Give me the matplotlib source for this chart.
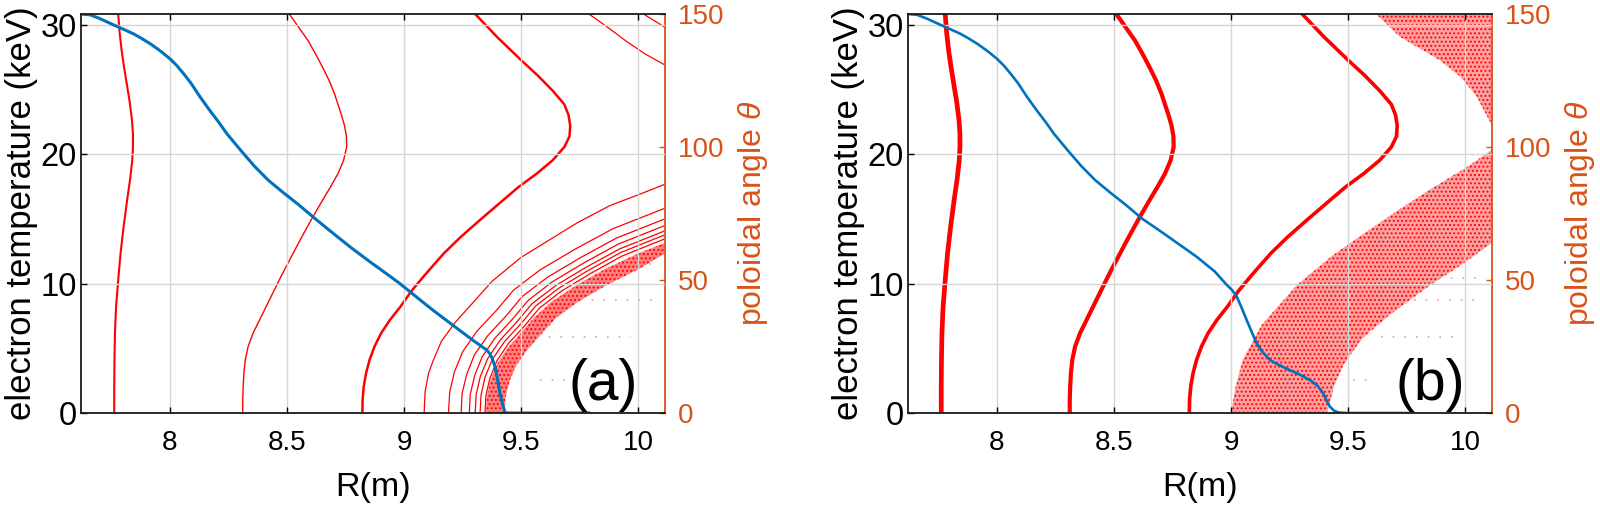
import matplotlib.pyplot as plt
import numpy as np
from matplotlib.ticker import FuncFormatter

plt.rcParams["font.family"] = ["Liberation Sans", "DejaVu Sans"]
plt.rcParams["mathtext.fontset"] = "custom"
plt.rcParams["mathtext.it"] = "Liberation Sans:italic"
plt.rcParams["hatch.linewidth"] = 0.9

BLUE = "#0072BD"
ORANGE = "#D95319"
RED = "#FF0000"

# electron temperature profiles (R in m, Te in keV)
te_r_a = [7.62, 7.66, 7.70, 7.76, 7.80, 7.844, 7.88, 7.92, 7.96, 8.0, 8.03, 8.06, 8.09,
          8.129, 8.17, 8.21, 8.243, 8.30, 8.36, 8.42, 8.48, 8.55, 8.62, 8.70, 8.77,
          8.85, 8.90, 8.983, 9.026, 9.12, 9.218, 9.30, 9.354, 9.366, 9.376, 9.389,
          9.40, 9.41, 9.421, 9.432, 9.60, 9.79]
te_a = [30.85, 30.78, 30.5, 30.0, 29.68, 29.32, 28.95, 28.5, 27.98, 27.39, 26.85, 26.2,
        25.5, 24.43, 23.4, 22.45, 21.6, 20.36, 19.1, 18.0, 17.1, 16.1, 15.03, 13.85,
        12.84, 11.75, 11.1, 10.0, 9.37, 8.0, 6.66, 5.55, 4.86, 4.6, 4.25, 3.58,
        2.55, 1.52, 0.7, 0.0, 0.0, 0.0]
te_r_b = [7.62, 7.66, 7.70, 7.76, 7.80, 7.844, 7.88, 7.92, 7.96, 8.0, 8.03, 8.06, 8.09,
          8.129, 8.17, 8.21, 8.243, 8.30, 8.36, 8.42, 8.48, 8.55, 8.62, 8.711, 8.854,
          8.93, 8.982, 9.005, 9.025, 9.045, 9.067, 9.09, 9.11, 9.135, 9.167, 9.20,
          9.238, 9.29, 9.337, 9.37, 9.394, 9.41, 9.423, 9.44, 9.46, 9.494, 9.78]
te_b = [30.85, 30.78, 30.5, 30.0, 29.68, 29.32, 28.95, 28.5, 27.98, 27.39, 26.85, 26.2,
        25.5, 24.43, 23.4, 22.45, 21.6, 20.36, 19.1, 18.0, 17.1, 16.1, 15.03, 13.9, 12.07,
        10.95, 9.9, 9.5, 8.98, 8.15, 7.18, 6.2, 5.38, 4.7, 4.09, 3.75,
        3.42, 3.0, 2.55, 2.1, 1.52, 0.9, 0.49, 0.18, 0.04, 0.0, 0.0]

# closed field line traces (poloidal angle in deg, R in m), same in both panels
c1_th = [0, 10, 20, 30, 40, 50, 60, 70, 80, 88, 95, 100, 105, 110, 117, 124, 130, 136,
         143, 150]
c1_r = [7.762, 7.762, 7.763, 7.765, 7.770, 7.779, 7.789, 7.802, 7.817, 7.830, 7.839,
        7.842, 7.842, 7.838, 7.828, 7.815, 7.804, 7.794, 7.785, 7.779]
c2_th = [0, 5, 10, 15, 20, 25, 30, 35, 40, 45, 50, 55, 60, 65, 70, 75, 80, 85, 90, 95,
         100, 104, 108, 112, 116, 120, 125, 130, 135, 140, 145, 150]
c2_r = [8.311, 8.311, 8.313, 8.316, 8.322, 8.334, 8.355, 8.383, 8.411, 8.439, 8.467,
        8.496, 8.526, 8.556, 8.587, 8.619, 8.652, 8.686, 8.718, 8.742, 8.755, 8.754,
        8.746, 8.733, 8.718, 8.703, 8.68, 8.652, 8.622, 8.59, 8.55, 8.51]
c3_th = [0, 5, 10, 15, 20, 25, 30, 35, 40, 46, 52, 60, 66, 72.6, 80, 85, 90, 95, 100,
         104, 108, 112, 116, 121, 127, 133, 141.5, 150]
c3_r = [8.822, 8.823, 8.828, 8.838, 8.853, 8.874, 8.902, 8.940, 8.985, 9.033, 9.09,
        9.170, 9.24, 9.325, 9.423, 9.49, 9.567, 9.635, 9.685, 9.707, 9.71, 9.703,
        9.685, 9.637, 9.57, 9.496, 9.396, 9.304]

# panel (a): nested surfaces near the edge
arc_th = [
    [0, 8, 15, 20, 27, 34, 42, 49.5, 58.5, 65, 71.5, 78, 82, 86],
    [0, 7.7, 15.4, 23.1, 30.8, 38.5, 46.2, 53.9, 61.6, 69.3, 77],
    [0, 7.3, 14.6, 21.9, 29.2, 36.5, 43.8, 51.1, 58.4, 65.7, 73],
    [0, 7.05, 14.1, 21.15, 28.2, 35.25, 42.3, 49.35, 56.4, 63.45, 70.5],
    [0, 6.85, 13.7, 20.55, 27.4, 34.25, 41.1, 47.95, 54.8, 61.65, 68.5],
    [0, 6.7, 13.4, 20.1, 26.8, 33.5, 40.2, 46.9, 53.6, 60.3, 67],
    [0, 6.55, 13.1, 19.65, 26.2, 32.75, 39.3, 45.85, 52.4, 58.95, 65.5],
]
arc_r = [
    [9.086, 9.090, 9.105, 9.126, 9.16, 9.218, 9.30, 9.376, 9.50, 9.62, 9.74, 9.88, 10.0, 10.115],
    [9.19, 9.195, 9.215, 9.251, 9.312, 9.394, 9.468, 9.583, 9.731, 9.893, 10.115],
    [9.244, 9.248, 9.268, 9.301, 9.359, 9.436, 9.505, 9.614, 9.754, 9.906, 10.115],
    [9.279, 9.283, 9.302, 9.334, 9.389, 9.463, 9.530, 9.634, 9.768, 9.914, 10.115],
    [9.304, 9.308, 9.326, 9.358, 9.411, 9.482, 9.547, 9.649, 9.778, 9.920, 10.115],
    [9.325, 9.329, 9.346, 9.377, 9.429, 9.499, 9.562, 9.661, 9.787, 9.925, 10.115],
    [9.346, 9.350, 9.367, 9.397, 9.447, 9.515, 9.577, 9.673, 9.796, 9.930, 10.115],
]
corner_th = [[150, 145, 139.6, 135, 130.8], [150, 145]]
corner_r = [[9.79, 9.87, 9.952, 10.03, 10.115], [10.023, 10.115]]

# panel (a): stochastic layer edges
band_a_th = [0, 6, 12, 18, 24, 30, 36, 42, 48, 54, 60, 64]
band_a_outer = [9.35, 9.354, 9.368, 9.395, 9.439, 9.498, 9.557, 9.633, 9.736, 9.856, 10.0, 10.115]
band_a_inner = [9.43, 9.434, 9.451, 9.48, 9.529, 9.59, 9.653, 9.747, 9.864, 10.001, 10.115, 10.115]

# panel (b): stochastic regions, outline points
sto1_upper_r = [9.0, 9.02, 9.05, 9.13, 9.28, 9.43, 9.56, 9.71, 9.85, 10.0, 10.115]
sto1_upper_th = [0, 10, 20, 33, 48, 59, 67, 76, 84, 92, 99]
sto1_lower_r = [9.41, 9.44, 9.48, 9.56, 9.68, 9.85, 9.99, 10.115]
sto1_lower_th = [0, 10, 18, 28, 37, 48, 56, 64]
sto2_r = [9.62, 9.72, 9.89, 9.98, 10.05, 10.115, 10.115]
sto2_th = [150, 141.5, 132.7, 126.4, 119, 108, 150]

# faint sparse points rows
rows_a_th = [56, 42.5, 28.6, 12.4]
rows_a_r0 = [9.95, 9.75, 9.57, 9.58]
rows_a_r1 = [10.08, 10.08, 9.97, 9.78]
rows_b_th = [50.9, 42.5, 28.6, 12.4]
rows_b_r0 = [9.89, 9.78, 9.64, 9.52]
rows_b_r1 = [10.06, 10.08, 9.98, 9.58]

r_ticks = [8, 8.5, 9, 9.5, 10]
te_ticks = [0, 10, 20, 30]
th_ticks = [0, 50, 100, 150]


def setup_axes(ax, ax2, letter):
    ax.set_xlim(7.62, 10.115)
    ax.set_ylim(0, 30.85)
    ax2.set_ylim(0, 150)
    ax.set_zorder(ax2.get_zorder() + 1)
    ax.patch.set_visible(False)

    ax.set_xticks(r_ticks)
    ax.xaxis.set_major_formatter(FuncFormatter(lambda v, p: f"{v:g}"))
    ax.set_yticks(te_ticks)
    ax2.set_yticks(th_ticks)
    ax.grid(True, color="#d6d6d6", lw=1.0)

    ax.tick_params(axis="x", direction="in", length=4.5, width=1.0, top=True,
                   labelsize=20, pad=12)
    ax.tick_params(axis="y", direction="in", length=4.5, width=1.0, right=False,
                   labelsize=23.5, pad=3)
    ax2.tick_params(axis="y", direction="in", length=4.5, width=1.0, colors=ORANGE,
                    labelsize=20, pad=9)

    for s in ["left", "bottom", "top"]:
        ax.spines[s].set_linewidth(1.3)
        ax.spines[s].set_color("#1a1a1a")
        ax2.spines[s].set_visible(False)
    ax.spines["right"].set_visible(False)
    ax2.spines["right"].set_color(ORANGE)
    ax2.spines["right"].set_linewidth(1.3)

    ax.set_xlabel("R(m)", fontsize=24.5)
    ax.xaxis.set_label_coords(0.5, -0.148)
    ax.set_ylabel("electron temperature (keV)", fontsize=25)
    ax.yaxis.set_label_coords(-0.074, 0.5)
    ax2.set_ylabel(r"poloidal angle $\theta$", fontsize=23, color=ORANGE, rotation=90)
    ax2.yaxis.set_label_coords(1.122, 0.5)

    ax.text(0.8947, 0.033, letter, transform=ax.transAxes, ha="center",
            va="baseline", fontsize=41)


fig = plt.figure(figsize=(16, 5.05), dpi=100)
ax_a = fig.add_axes([81 / 1600, 92 / 505, 584 / 1600, 399 / 505])
ax_b = fig.add_axes([908 / 1600, 92 / 505, 584 / 1600, 399 / 505])
ax_a2 = ax_a.twinx()
ax_b2 = ax_b.twinx()

# ---- panel (a)
ax_a2.fill(band_a_outer + band_a_inner[::-1], band_a_th + band_a_th[::-1],
           facecolor="#ff8080", edgecolor=RED, hatch="....", linewidth=0)
ax_a2.hlines(rows_a_th, rows_a_r0, rows_a_r1, colors="#e8a0a0",
             linestyles=(0, (1, 6)), lw=1.2)
ax_a2.plot(c1_r, c1_th, color=RED, lw=1.5)
ax_a2.plot(c2_r, c2_th, color=RED, lw=1.0)
ax_a2.plot(c3_r, c3_th, color=RED, lw=1.8)
for rr, tt in zip(arc_r, arc_th):
    ax_a2.plot(rr, tt, color=RED, lw=0.9)
for rr, tt in zip(corner_r, corner_th):
    ax_a2.plot(rr, tt, color=RED, lw=0.9)
ax_a.plot(te_r_a, te_a, color=BLUE, lw=2.2)
setup_axes(ax_a, ax_a2, "(a)")

# ---- panel (b)
ax_b2.fill(sto1_upper_r + sto1_lower_r[::-1], sto1_upper_th + sto1_lower_th[::-1],
           facecolor="#ffa0a0", edgecolor=RED, hatch="....", linewidth=0)
ax_b2.fill(sto2_r, sto2_th, facecolor="#ffa0a0", edgecolor=RED, hatch="....",
           linewidth=0)
ax_b2.hlines(rows_b_th, rows_b_r0, rows_b_r1, colors="#e8a0a0",
             linestyles=(0, (1, 6)), lw=1.2)
ax_b2.plot(c1_r, c1_th, color=RED, lw=3.4)
ax_b2.plot(c2_r, c2_th, color=RED, lw=3.0)
ax_b2.plot(c3_r, c3_th, color=RED, lw=2.6)
ax_b.plot(te_r_b, te_b, color=BLUE, lw=1.9)
setup_axes(ax_b, ax_b2, "(b)")

fig.savefig("out.png", dpi=100)
